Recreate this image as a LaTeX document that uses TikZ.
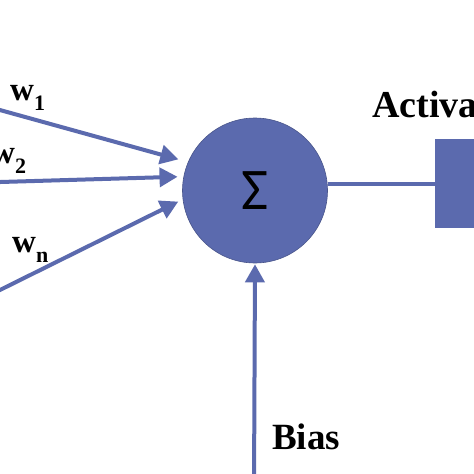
\documentclass[tikz,border=0pt]{standalone}
\usepackage{fontspec}
\setmainfont{Liberation Serif}
\newfontfamily\sigmafont{Carlito}
\usetikzlibrary{arrows.meta}
\definecolor{nblue}{HTML}{5B6AAE}
\newcommand{\wsub}[1]{\textbf{w}\raisebox{-10pt}{\fontsize{22}{22}\selectfont\textbf{#1}}}

\begin{document}
\begin{tikzpicture}[x=1pt,y=-1pt,
	neuron/.style={circle, draw=nblue!80!black, line width=0.6pt, fill=nblue, minimum size=145pt, inner sep=0pt},
	box/.style={rectangle, fill=nblue, minimum width=90pt, minimum height=89pt, inner sep=0pt},
	lbl/.style={anchor=base west, inner sep=0pt, font=\fontsize{37}{40}\selectfont\bfseries},
	wlbl/.style={anchor=base west, inner sep=0pt, font=\fontsize{33}{36}\selectfont},
	>={Triangle[length=18pt,width=19pt]}
	]
	\useasboundingbox (0,0) rectangle (474,474);
	\clip (0,0) rectangle (474,474);
	\fill[white] (0,0) rectangle (474,474);
	
	%-----------------------
	% Summing neuron and activation box
	%-----------------------
	\node[neuron] (Sum) at (255,190.5) {\sigmafont\fontsize{59}{60}\selectfont\raisebox{-3.5pt}{Σ}};
	\node[box, anchor=west] (Act) at (435,183.5) {};
	
	%-----------------------
	% Free ends (inputs and bias come from outside)
	%-----------------------
	\coordinate (in1) at (-20,104.5);
	\coordinate (in2) at (-20,182.6);
	\coordinate (inn) at (-20,299.9);
	\coordinate (bias) at (254,490);
	
	%-----------------------
	% Connections
	%-----------------------
	\tikzset{connect/.style={->, draw=nblue, line width=4pt}}
	
	% inputs -> sum
	\draw[connect, shorten >=10pt] (in1) -- (Sum.157);
	\draw[connect, shorten >=6pt] (in2) -- (Sum.169);
	\draw[connect, shorten >=5pt] (inn) -- (Sum.187);
	
	% bias -> sum (from below)
	\draw[connect, shorten >=1pt] (bias) -- (Sum.south);
	
	% sum -> activation
	\draw[nblue, line width=4pt] (Sum.east |- Act.west) -- (Act.west);
	
	%-----------------------
	% Labels
	%-----------------------
	\node[wlbl] (w1) at (10,100) {\wsub{1}};
	\node[wlbl] (w2) at (-9,163) {\wsub{2}};
	\node[wlbl] (wn) at (12,252) {\wsub{n}};
	\node[lbl, font=\fontsize{38}{40}\selectfont\bfseries] (actlbl) at (372,117) {Activa};
	\node[lbl] (biaslbl) at (272,449) {Bias};
	
\end{tikzpicture}
\end{document}
